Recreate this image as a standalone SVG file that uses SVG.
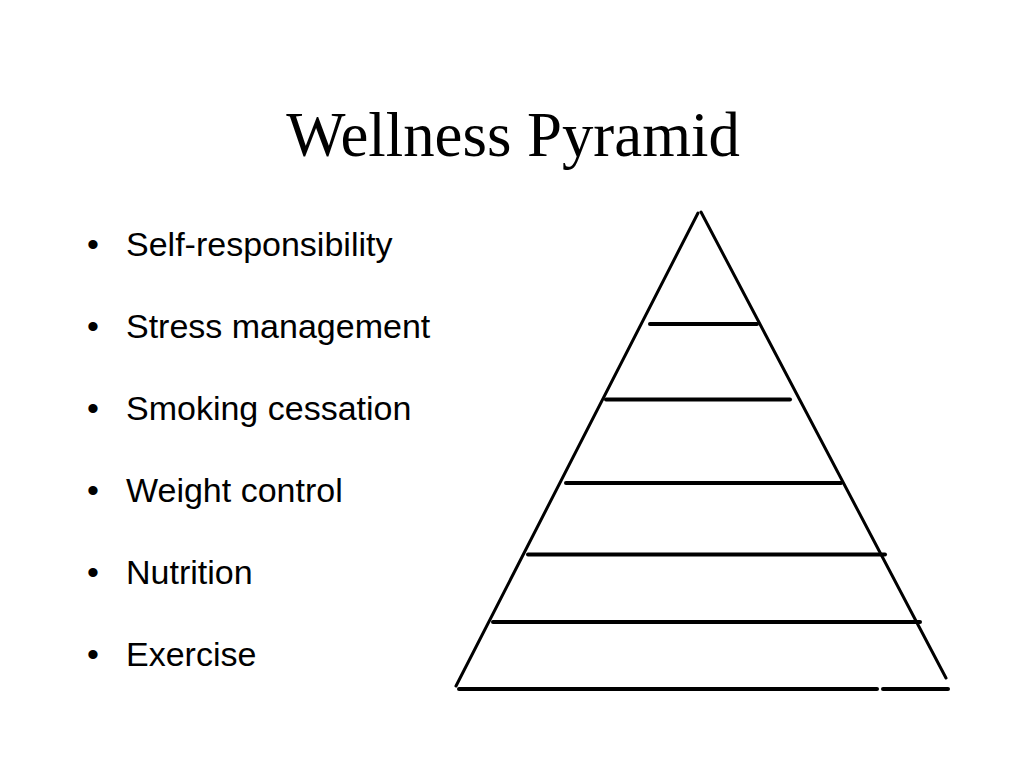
<svg xmlns="http://www.w3.org/2000/svg" width="1024" height="768" viewBox="0 0 1024 768">
<style>
.title{font-family:"Liberation Serif","Times New Roman",serif;font-size:62.8px;fill:#000}
.item{font-family:"Liberation Sans",Arial,sans-serif;font-size:34px;fill:#000}
.bul{font-family:"Liberation Sans",Arial,sans-serif;font-size:34px;fill:#000;text-anchor:middle}
.edge{stroke:#000;stroke-width:3;fill:none;stroke-linecap:round}
.tier{stroke:#000;stroke-width:4;fill:none;stroke-linecap:round}
</style>
<rect width="1024" height="768" fill="#fff"/>
<g id="title"><text class="title" x="513" y="156" text-anchor="middle">Wellness Pyramid</text></g>
<g id="list">
<g id="item1"><text class="bul" x="93" y="256">•</text><text class="item" x="126" y="256">Self-responsibility</text></g>
<g id="item2"><text class="bul" x="93" y="338">•</text><text class="item" x="126" y="338">Stress management</text></g>
<g id="item3"><text class="bul" x="93" y="420">•</text><text class="item" x="126" y="420">Smoking cessation</text></g>
<g id="item4"><text class="bul" x="93" y="502">•</text><text class="item" x="126" y="502">Weight control</text></g>
<g id="item5"><text class="bul" x="93" y="584">•</text><text class="item" x="126" y="584">Nutrition</text></g>
<g id="item6"><text class="bul" x="93" y="666">•</text><text class="item" x="126" y="666">Exercise</text></g>
</g>
<g id="pyramid">
<line class="edge" x1="698" y1="213" x2="456" y2="686"/>
<line class="edge" x1="701" y1="212" x2="946" y2="678"/>
<line class="tier" x1="650" y1="324" x2="757" y2="324"/>
<line class="tier" x1="606" y1="399.5" x2="790" y2="399.5"/>
<line class="tier" x1="566" y1="483" x2="841" y2="483"/>
<line class="tier" x1="528" y1="554.5" x2="885" y2="554.5"/>
<line class="tier" x1="493" y1="622" x2="920" y2="622"/>
<line class="tier" x1="459" y1="689" x2="877" y2="689"/>
<line class="tier" x1="883" y1="689" x2="948" y2="689"/>
</g>
</svg>
